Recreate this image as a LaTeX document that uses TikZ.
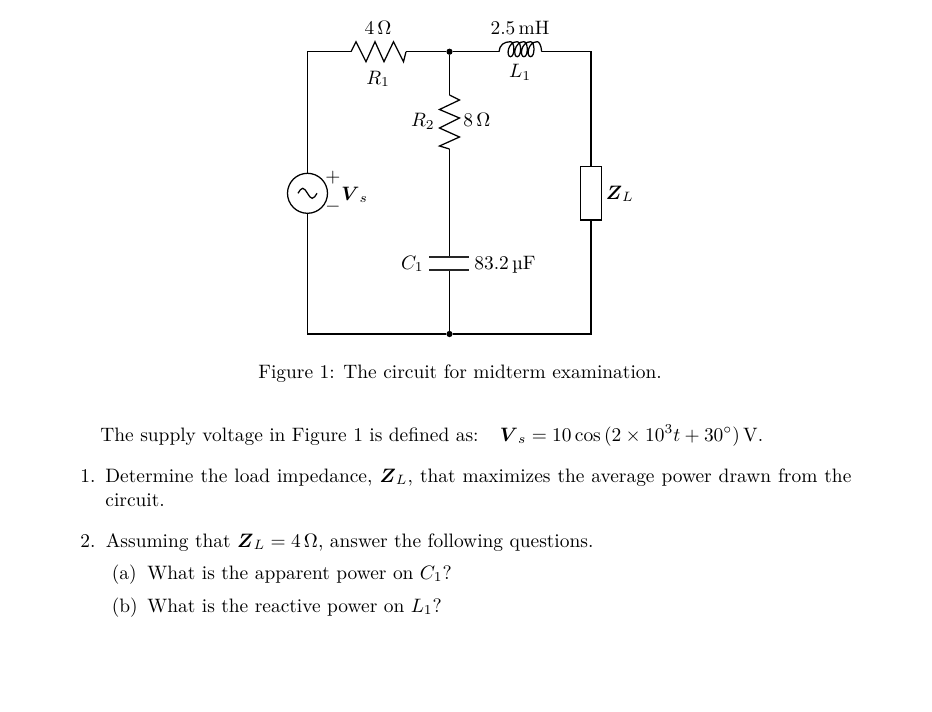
\documentclass[tikz,border=0pt]{standalone}
\usepackage{amsmath}
\tikzset{
  wire/.style={line width=0.65pt},
  junct/.style={circle,fill=black,inner sep=0pt,minimum size=3.2pt},
  source/.style={circle,draw,line width=0.65pt,inner sep=0pt,minimum size=20.6pt},
  load/.style={rectangle,draw,line width=0.65pt,inner sep=0pt,minimum width=10.5pt,minimum height=27.5pt},
  plate/.style={line width=0.9pt,black!85},
  lbl/.style={anchor=base,inner sep=0pt},
  para/.style={anchor=base west,inner sep=0pt}
}
\begin{document}
\begin{tikzpicture}[x=0.515pt,y=-0.515pt]
\useasboundingbox (0,0) rectangle (932,711);

\coordinate (tl) at (307.5,51.7);
\coordinate (tr) at (591,51.7);
\coordinate (bl) at (307.5,334);
\coordinate (br) at (591,334);
\node[junct] (top) at (449.5,51.7) {};
\node[junct] (bot) at (449.5,334) {};
\node[source] (vs) at (307.5,193.3) {};
\node[load] (zl) at (591,193.3) {};
\coordinate (r1a) at (351,51.7);
\coordinate (r1b) at (406,51.7);
\coordinate (l1a) at (499,51.7);
\coordinate (l1b) at (541.7,51.7);
\coordinate (r2a) at (449.5,95);
\coordinate (r2b) at (449.5,149);
\coordinate (c1a) at (449.5,256.7);
\coordinate (c1b) at (449.5,270);

\draw[wire] (vs.north) -- (tl) -- (r1a);
\draw[wire] (r1a) -- ++(5,-10) -- ++(10,20) -- ++(9,-20) -- ++(9,20) -- ++(9.5,-20) -- ++(10,20) -- (r1b);
\draw[wire] (r1b) -- (top) -- (l1a);
\draw[wire] (l1a) .. controls (499.5,45) and (504,41.7) .. (510.5,41.7)
  \foreach \cx in {510.5,517.2,523.9,530.6} {
    .. controls (\cx+4.5,41.7) and (\cx+4.5,56.7) .. (\cx,56.7)
    .. controls (\cx-4.5,56.7) and (\cx-3,41.7) .. (\cx+6.7,41.7)
  }
  .. controls (539,41.7) and (541.2,45) .. (l1b);
\draw[wire] (l1b) -- (tr) -- (zl.north);
\draw[wire] (zl.south) -- (br) -- (bot) -- (bl) -- (vs.south);
\draw[wire] (top) -- (r2a);
\draw[wire] (r2a) -- ++(10,5) -- ++(-20,9.5) -- ++(20,8.5) -- ++(-20,10) -- ++(20,9) -- ++(-20,9) -- (r2b);
\draw[wire] (r2b) -- (c1a);
\draw[wire] (c1b) -- (bot);
\draw[plate] (429,256.7) -- (469,256.7);
\draw[plate] (429,270) -- (469,270);
\draw[wire] (298,193.3) sin (302.7,188.3) cos (307.5,193.3) sin (312.2,198.3) cos (317,193.3);

\node[lbl] (r1val) at (378,34) {$4\,\Omega$};
\node[lbl] (r1name) at (378,84) {$R_1$};
\node[lbl] (l1val) at (520,34) {$2.5\,\mathrm{mH}$};
\node[lbl] (l1name) at (520,77.5) {$L_1$};
\node[anchor=base east,inner sep=0pt] (r2name) at (435,126.7) {$R_2$};
\node[para] (r2val) at (463,126.7) {$8\,\Omega$};
\node[anchor=base east,inner sep=0pt] (c1name) at (424,269) {$C_1$};
\node[para] (c1val) at (474,269) {83.2\,µF};
\node[lbl] (plus) at (333,182) {$+$};
\node[lbl] (minus) at (333,211) {$-$};
\node[para] (vsname) at (341,200) {$\boldsymbol{V}_s$};
\node[para] (zlname) at (605.5,199) {$\boldsymbol{Z}_L$};

\node[para] (caption) at (258,378) {Figure 1: The circuit for midterm examination.};
\node[para] (supply) at (100,441) {The supply voltage in Figure 1 is defined as:\hspace{11pt}$\boldsymbol{V}_s = 10\cos\,(2\times10^3t+30^\circ)\,\mathrm{V}$.};
\node[para] (one) at (80,482) {1.};
\node[para] (q1a) at (105,482) {\makebox[384.2pt][s]{Determine the load impedance, $\boldsymbol{Z}_L$, that maximizes the average power drawn from the}};
\node[para] (q1b) at (105,506) {circuit.};
\node[para] (two) at (80,547) {2.};
\node[para] (q2) at (105.5,547) {Assuming that $\boldsymbol{Z}_L=4\,\Omega$, answer the following questions.};
\node[para] (alab) at (111.5,579) {(a)};
\node[para] (qa) at (147,579) {What is the apparent power on $C_1$?};
\node[para] (blab) at (111.5,612) {(b)};
\node[para] (qb) at (147,612) {What is the reactive power on $L_1$?};
\end{tikzpicture}
\end{document}
